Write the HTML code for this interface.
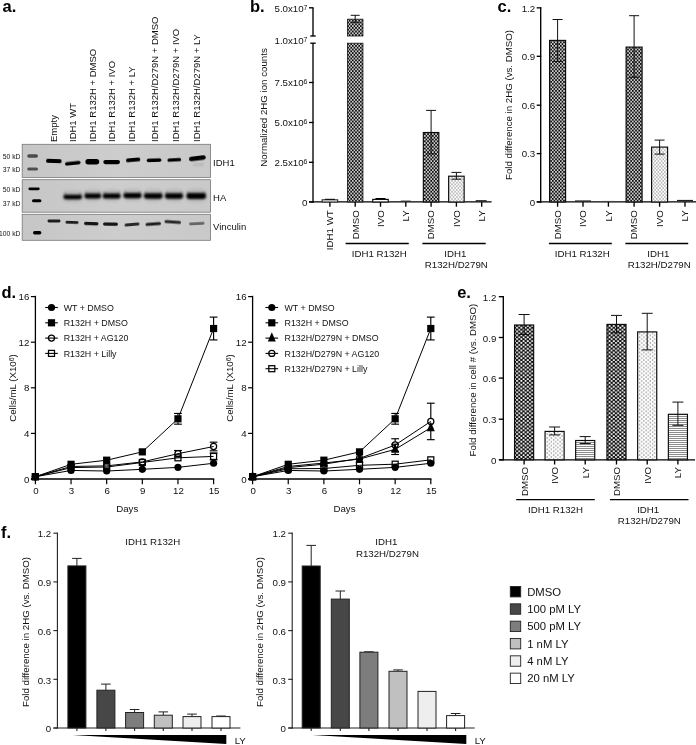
<!DOCTYPE html>
<html><head><meta charset="utf-8"><title>Figure</title>
<style>
html,body{margin:0;padding:0;background:#fff;}
body{width:696px;height:745px;overflow:hidden;font-family:"Liberation Sans",sans-serif;}
svg{display:block;}
svg text{font-family:"Liberation Sans",sans-serif;}
</style></head><body>
<svg width="696" height="745" viewBox="0 0 696 745">
<defs>
<pattern id="pDense" patternUnits="userSpaceOnUse" width="3.2" height="3.6">
<rect width="3.2" height="3.6" fill="#0d0d0d"/>
<circle cx="0.8" cy="0.9" r="0.88" fill="#fff"/><circle cx="2.4" cy="2.7" r="0.88" fill="#fff"/>
</pattern>
<pattern id="pDenseE" patternUnits="userSpaceOnUse" width="4.3" height="3.8">
<rect width="4.3" height="3.8" fill="#111"/>
<circle cx="1.075" cy="0.95" r="1.03" fill="#fff"/><circle cx="3.225" cy="2.85" r="1.03" fill="#fff"/>
</pattern>
<pattern id="pLight" patternUnits="userSpaceOnUse" width="3.2" height="3.6">
<rect width="3.2" height="3.6" fill="#fff"/>
<circle cx="0.8" cy="0.9" r="0.66" fill="#6a6a6a"/><circle cx="2.4" cy="2.7" r="0.66" fill="#6a6a6a"/>
</pattern>
<pattern id="pLightE" patternUnits="userSpaceOnUse" width="4.3" height="3.8">
<rect width="4.3" height="3.8" fill="#fff"/>
<circle cx="1.075" cy="0.95" r="0.72" fill="#777"/><circle cx="3.225" cy="2.85" r="0.72" fill="#777"/>
</pattern>
<pattern id="pLines" patternUnits="userSpaceOnUse" width="4" height="2">
<rect width="4" height="2" fill="#fff"/>
<rect y="0" width="4" height="1" fill="#8c8c8c"/>
</pattern>
<filter id="bl1" x="-30%" y="-100%" width="160%" height="300%"><feGaussianBlur stdDeviation="0.6"/></filter>
<filter id="bl2" x="-30%" y="-100%" width="160%" height="300%"><feGaussianBlur stdDeviation="0.85"/></filter>
<filter id="bl3" x="-30%" y="-100%" width="160%" height="300%"><feGaussianBlur stdDeviation="2.0"/></filter>
<linearGradient id="bg1" x1="0" y1="0" x2="1" y2="0">
<stop offset="0" stop-color="#c6c6c6"/><stop offset="0.5" stop-color="#cdcdcd"/><stop offset="1" stop-color="#c9c9c9"/>
</linearGradient>
</defs>
<rect width="696" height="745" fill="#fff"/>

<text x="2.60" y="11.90" font-size="16.5" text-anchor="start" font-weight="bold" fill="#000" >a.</text>
<text x="250.00" y="11.90" font-size="16.5" text-anchor="start" font-weight="bold" fill="#000" >b.</text>
<text x="497.60" y="12.40" font-size="16.5" text-anchor="start" font-weight="bold" fill="#000" >c.</text>
<text x="1.50" y="297.70" font-size="16.5" text-anchor="start" font-weight="bold" fill="#000" >d.</text>
<text x="457.20" y="297.70" font-size="16.5" text-anchor="start" font-weight="bold" fill="#000" >e.</text>
<text x="1.00" y="537.70" font-size="16.5" text-anchor="start" font-weight="bold" fill="#000" >f.</text>
<g id="panel-a">
<text x="56.60" y="142.00" font-size="9.5" text-anchor="start" font-weight="normal" fill="#111" transform="rotate(-90 56.60 142.00)" >Empty</text>
<text x="76.10" y="142.00" font-size="9.5" text-anchor="start" font-weight="normal" fill="#111" transform="rotate(-90 76.10 142.00)" >IDH1 WT</text>
<text x="96.20" y="142.00" font-size="9.5" text-anchor="start" font-weight="normal" fill="#111" transform="rotate(-90 96.20 142.00)" >IDH1 R132H + DMSO</text>
<text x="115.20" y="142.00" font-size="9.5" text-anchor="start" font-weight="normal" fill="#111" transform="rotate(-90 115.20 142.00)" >IDH1 R132H + IVO</text>
<text x="135.30" y="142.00" font-size="9.5" text-anchor="start" font-weight="normal" fill="#111" transform="rotate(-90 135.30 142.00)" >IDH1 R132H + LY</text>
<text x="157.70" y="142.00" font-size="9.5" text-anchor="start" font-weight="normal" fill="#111" transform="rotate(-90 157.70 142.00)" >IDH1 R132H/D279N + DMSO</text>
<text x="178.50" y="142.00" font-size="9.5" text-anchor="start" font-weight="normal" fill="#111" transform="rotate(-90 178.50 142.00)" >IDH1 R132H/D279N + IVO</text>
<text x="199.50" y="142.00" font-size="9.5" text-anchor="start" font-weight="normal" fill="#111" transform="rotate(-90 199.50 142.00)" >IDH1 R132H/D279N + LY</text>
<rect x="22.20" y="144.30" width="188.30" height="33.10" fill="url(#bg1)" stroke="#777" stroke-width="0.8" />
<rect x="22.20" y="179.70" width="188.30" height="32.50" fill="url(#bg1)" stroke="#777" stroke-width="0.8" />
<rect x="22.20" y="214.30" width="188.30" height="26.00" fill="url(#bg1)" stroke="#777" stroke-width="0.8" />
<clipPath id="c1"><rect x="22.6" y="144.7" width="187.5" height="32.4"/></clipPath>
<clipPath id="c2"><rect x="22.6" y="180.1" width="187.5" height="31.7"/></clipPath>
<clipPath id="c3"><rect x="22.6" y="214.7" width="187.5" height="25.2"/></clipPath>
<g clip-path="url(#c1)">
<rect x="27.2" y="154.30" width="10.8" height="3.40" rx="1.70" fill="#000" opacity="0.62" filter="url(#bl1)"/>
<rect x="27.2" y="167.40" width="10.8" height="3.20" rx="1.60" fill="#000" opacity="0.6" filter="url(#bl1)"/>
<rect x="46.0" y="159.10" width="15.7" height="3.80" rx="1.90" fill="#000" opacity="1" filter="url(#bl1)" transform="rotate(2 53.9 161.0)"/>
<rect x="65.0" y="161.60" width="15.5" height="3.40" rx="1.70" fill="#000" opacity="1" filter="url(#bl1)" transform="rotate(-6 72.8 163.3)"/>
<rect x="85.4" y="159.05" width="13.8" height="5.50" rx="2.75" fill="#000" opacity="1" filter="url(#bl1)"/>
<rect x="103.3" y="160.00" width="16.7" height="4.20" rx="2.10" fill="#000" opacity="1" filter="url(#bl1)"/>
<rect x="126.0" y="158.00" width="14.3" height="3.80" rx="1.90" fill="#000" opacity="1" filter="url(#bl1)" transform="rotate(-5 133.2 159.9)"/>
<rect x="146.7" y="158.50" width="14.7" height="3.60" rx="1.80" fill="#000" opacity="1" filter="url(#bl1)" transform="rotate(-2 154.1 160.3)"/>
<rect x="167.4" y="158.20" width="13.8" height="3.40" rx="1.70" fill="#000" opacity="1" filter="url(#bl1)" transform="rotate(-3 174.3 159.9)"/>
<rect x="189.0" y="155.95" width="16.7" height="4.50" rx="2.25" fill="#000" opacity="1" filter="url(#bl1)" transform="rotate(-7 197.3 158.2)"/>
<rect x="193.0" y="163.40" width="11.0" height="2.20" rx="1.10" fill="#000" opacity="0.12" filter="url(#bl2)"/>
</g>
<g clip-path="url(#c2)">
<rect x="28.4" y="187.40" width="11.3" height="2.80" rx="1.40" fill="#000" opacity="1" filter="url(#bl1)"/>
<rect x="32.0" y="199.20" width="9.4" height="3.00" rx="1.50" fill="#000" opacity="1" filter="url(#bl1)"/>
<rect x="63.5" y="191.95" width="18.5" height="9.10" rx="4.55" fill="#000" opacity="0.16" filter="url(#bl3)"/>
<rect x="64.0" y="192.00" width="2.5" height="5.00" rx="2.50" fill="#000" opacity="0.25" filter="url(#bl2)"/>
<rect x="79.0" y="192.00" width="2.5" height="5.00" rx="2.50" fill="#000" opacity="0.25" filter="url(#bl2)"/>
<rect x="63.5" y="194.70" width="18.5" height="4.60" rx="2.30" fill="#000" opacity="1" filter="url(#bl2)"/>
<rect x="84.5" y="190.75" width="16.5" height="9.50" rx="4.75" fill="#000" opacity="0.16" filter="url(#bl3)"/>
<rect x="85.0" y="191.00" width="2.5" height="5.00" rx="2.50" fill="#000" opacity="0.25" filter="url(#bl2)"/>
<rect x="98.0" y="191.00" width="2.5" height="5.00" rx="2.50" fill="#000" opacity="0.25" filter="url(#bl2)"/>
<rect x="84.5" y="193.50" width="16.5" height="5.00" rx="2.50" fill="#000" opacity="1" filter="url(#bl2)"/>
<rect x="102.8" y="190.65" width="17.7" height="9.70" rx="4.85" fill="#000" opacity="0.16" filter="url(#bl3)"/>
<rect x="103.3" y="191.00" width="2.5" height="5.00" rx="2.50" fill="#000" opacity="0.25" filter="url(#bl2)"/>
<rect x="117.5" y="191.00" width="2.5" height="5.00" rx="2.50" fill="#000" opacity="0.25" filter="url(#bl2)"/>
<rect x="102.8" y="193.40" width="17.7" height="5.20" rx="2.60" fill="#000" opacity="1" filter="url(#bl2)"/>
<rect x="123.5" y="190.25" width="18.0" height="9.70" rx="4.85" fill="#000" opacity="0.16" filter="url(#bl3)"/>
<rect x="124.0" y="190.60" width="2.5" height="5.00" rx="2.50" fill="#000" opacity="0.25" filter="url(#bl2)"/>
<rect x="138.5" y="190.60" width="2.5" height="5.00" rx="2.50" fill="#000" opacity="0.25" filter="url(#bl2)"/>
<rect x="123.5" y="193.00" width="18.0" height="5.20" rx="2.60" fill="#000" opacity="1" filter="url(#bl2)"/>
<rect x="144.0" y="190.45" width="18.5" height="10.10" rx="5.05" fill="#000" opacity="0.16" filter="url(#bl3)"/>
<rect x="144.5" y="191.00" width="2.5" height="5.00" rx="2.50" fill="#000" opacity="0.25" filter="url(#bl2)"/>
<rect x="159.5" y="191.00" width="2.5" height="5.00" rx="2.50" fill="#000" opacity="0.25" filter="url(#bl2)"/>
<rect x="144.0" y="193.20" width="18.5" height="5.60" rx="2.80" fill="#000" opacity="1" filter="url(#bl2)"/>
<rect x="165.0" y="190.55" width="18.0" height="9.90" rx="4.95" fill="#000" opacity="0.16" filter="url(#bl3)"/>
<rect x="165.5" y="191.00" width="2.5" height="5.00" rx="2.50" fill="#000" opacity="0.25" filter="url(#bl2)"/>
<rect x="180.0" y="191.00" width="2.5" height="5.00" rx="2.50" fill="#000" opacity="0.25" filter="url(#bl2)"/>
<rect x="165.0" y="193.30" width="18.0" height="5.40" rx="2.70" fill="#000" opacity="1" filter="url(#bl2)"/>
<rect x="186.5" y="190.35" width="19.5" height="10.30" rx="5.15" fill="#000" opacity="0.16" filter="url(#bl3)"/>
<rect x="187.0" y="191.00" width="2.5" height="5.00" rx="2.50" fill="#000" opacity="0.25" filter="url(#bl2)"/>
<rect x="203.0" y="191.00" width="2.5" height="5.00" rx="2.50" fill="#000" opacity="0.25" filter="url(#bl2)"/>
<rect x="186.5" y="193.10" width="19.5" height="5.80" rx="2.90" fill="#000" opacity="1" filter="url(#bl2)"/>
</g>
<g clip-path="url(#c3)">
<rect x="33.0" y="231.10" width="8.4" height="3.40" rx="1.70" fill="#000" opacity="1" filter="url(#bl1)"/>
<rect x="47.5" y="219.60" width="13.0" height="2.80" rx="1.40" fill="#000" opacity="0.85" filter="url(#bl1)"/>
<rect x="65.5" y="221.00" width="13.0" height="2.80" rx="1.40" fill="#000" opacity="0.85" filter="url(#bl1)" transform="rotate(2 72.0 222.4)"/>
<rect x="84.0" y="222.00" width="14.5" height="3.20" rx="1.60" fill="#000" opacity="0.9" filter="url(#bl1)" transform="rotate(2 91.2 223.6)"/>
<rect x="103.0" y="222.40" width="15.0" height="3.40" rx="1.70" fill="#000" opacity="0.9" filter="url(#bl1)" transform="rotate(1 110.5 224.1)"/>
<rect x="124.5" y="222.90" width="15.0" height="3.20" rx="1.60" fill="#000" opacity="0.8" filter="url(#bl1)" transform="rotate(-5 132.0 224.5)"/>
<rect x="145.5" y="222.40" width="15.5" height="3.20" rx="1.60" fill="#000" opacity="0.85" filter="url(#bl1)" transform="rotate(-4 153.2 224.0)"/>
<rect x="164.5" y="220.50" width="16.5" height="3.00" rx="1.50" fill="#000" opacity="0.8" filter="url(#bl1)" transform="rotate(4 172.8 222.0)"/>
<rect x="189.0" y="222.20" width="15.5" height="2.80" rx="1.40" fill="#000" opacity="0.5" filter="url(#bl1)" transform="rotate(-3 196.8 223.6)"/>
</g>
<text x="20.50" y="158.80" font-size="6.8" text-anchor="end" font-weight="normal" fill="#111" >50 kD</text>
<text x="20.50" y="172.00" font-size="6.8" text-anchor="end" font-weight="normal" fill="#111" >37 kD</text>
<text x="20.50" y="191.50" font-size="6.8" text-anchor="end" font-weight="normal" fill="#111" >50 kD</text>
<text x="20.50" y="206.00" font-size="6.8" text-anchor="end" font-weight="normal" fill="#111" >37 kD</text>
<text x="20.50" y="235.50" font-size="6.8" text-anchor="end" font-weight="normal" fill="#111" >100 kD</text>
<text x="213.10" y="165.80" font-size="9.5" text-anchor="start" font-weight="normal" fill="#111" >IDH1</text>
<text x="213.10" y="200.80" font-size="9.5" text-anchor="start" font-weight="normal" fill="#111" >HA</text>
<text x="213.10" y="229.60" font-size="9.5" text-anchor="start" font-weight="normal" fill="#111" >Vinculin</text>
</g>
<g id="panel-b">
<line x1="313.00" y1="43.20" x2="313.00" y2="202.50" stroke="#000" stroke-width="1.35" />
<line x1="313.00" y1="7.80" x2="313.00" y2="36.00" stroke="#000" stroke-width="1.35" />
<line x1="310.30" y1="36.00" x2="315.70" y2="36.00" stroke="#000" stroke-width="1.35" />
<line x1="310.30" y1="43.20" x2="315.70" y2="43.20" stroke="#000" stroke-width="1.35" />
<line x1="309.00" y1="7.80" x2="313.50" y2="7.80" stroke="#000" stroke-width="1.35" />
<line x1="309.00" y1="82.50" x2="313.50" y2="82.50" stroke="#000" stroke-width="1.35" />
<line x1="309.00" y1="122.50" x2="313.50" y2="122.50" stroke="#000" stroke-width="1.35" />
<line x1="309.00" y1="162.30" x2="313.50" y2="162.30" stroke="#000" stroke-width="1.35" />
<line x1="309.00" y1="202.00" x2="313.50" y2="202.00" stroke="#000" stroke-width="1.35" />
<line x1="309.00" y1="201.80" x2="491.60" y2="201.80" stroke="#000" stroke-width="1.3" />
<text x="307.50" y="11.50" font-size="9.7" text-anchor="end" font-weight="normal" fill="#111" >5.0x10<tspan font-size="6.98" dy="-1.84">7</tspan></text>
<text x="307.50" y="43.70" font-size="9.7" text-anchor="end" font-weight="normal" fill="#111" >1.0x10<tspan font-size="6.98" dy="-1.84">7</tspan></text>
<text x="307.50" y="86.30" font-size="9.7" text-anchor="end" font-weight="normal" fill="#111" >7.5x10<tspan font-size="6.98" dy="-1.84">6</tspan></text>
<text x="307.50" y="126.30" font-size="9.7" text-anchor="end" font-weight="normal" fill="#111" >5.0x10<tspan font-size="6.98" dy="-1.84">6</tspan></text>
<text x="307.50" y="166.10" font-size="9.7" text-anchor="end" font-weight="normal" fill="#111" >2.5x10<tspan font-size="6.98" dy="-1.84">6</tspan></text>
<text x="307.50" y="205.70" font-size="9.7" text-anchor="end" font-weight="normal" fill="#111" >0</text>
<text x="267.00" y="107.50" font-size="9.7" text-anchor="middle" font-weight="normal" fill="#111" transform="rotate(-90 267.00 107.50)" >Normalized 2HG ion counts</text>
<line x1="329.90" y1="202.00" x2="329.90" y2="206.70" stroke="#000" stroke-width="1.35" />
<line x1="355.20" y1="202.00" x2="355.20" y2="206.70" stroke="#000" stroke-width="1.35" />
<line x1="380.50" y1="202.00" x2="380.50" y2="206.70" stroke="#000" stroke-width="1.35" />
<line x1="405.80" y1="202.00" x2="405.80" y2="206.70" stroke="#000" stroke-width="1.35" />
<line x1="431.10" y1="202.00" x2="431.10" y2="206.70" stroke="#000" stroke-width="1.35" />
<line x1="456.40" y1="202.00" x2="456.40" y2="206.70" stroke="#000" stroke-width="1.35" />
<line x1="481.70" y1="202.00" x2="481.70" y2="206.70" stroke="#000" stroke-width="1.35" />
<rect x="322.15" y="199.80" width="15.50" height="2.20" fill="#fff" stroke="#333" stroke-width="1.15" />
<line x1="324.90" y1="199.30" x2="334.90" y2="199.30" stroke="#000" stroke-width="1" />
<rect x="347.45" y="43.20" width="15.50" height="158.80" fill="url(#pDense)" stroke="#111" stroke-width="0.8" />
<rect x="347.45" y="19.20" width="15.50" height="16.80" fill="url(#pDense)" stroke="#111" stroke-width="0.8" />
<line x1="355.20" y1="15.30" x2="355.20" y2="22.30" stroke="#111" stroke-width="1" />
<line x1="350.70" y1="15.30" x2="359.70" y2="15.30" stroke="#111" stroke-width="1" />
<line x1="350.70" y1="22.30" x2="359.70" y2="22.30" stroke="#111" stroke-width="1" />
<rect x="372.75" y="199.40" width="15.50" height="2.60" fill="#fff" stroke="#0a0a0a" stroke-width="1.15" />
<line x1="375.50" y1="198.60" x2="385.50" y2="198.60" stroke="#000" stroke-width="1.2" />
<line x1="400.80" y1="201.00" x2="410.80" y2="201.00" stroke="#222" stroke-width="0.8" />
<rect x="423.35" y="132.50" width="15.50" height="69.50" fill="url(#pDense)" stroke="#0a0a0a" stroke-width="1.15" />
<line x1="431.10" y1="110.40" x2="431.10" y2="153.90" stroke="#111" stroke-width="1" />
<line x1="426.10" y1="110.40" x2="436.10" y2="110.40" stroke="#111" stroke-width="1" />
<line x1="426.10" y1="153.90" x2="436.10" y2="153.90" stroke="#111" stroke-width="1" />
<rect x="448.65" y="176.20" width="15.50" height="25.80" fill="url(#pLight)" stroke="#0a0a0a" stroke-width="1.15" />
<line x1="456.40" y1="172.40" x2="456.40" y2="179.20" stroke="#111" stroke-width="1" />
<line x1="451.40" y1="172.40" x2="461.40" y2="172.40" stroke="#111" stroke-width="1" />
<line x1="451.40" y1="179.20" x2="461.40" y2="179.20" stroke="#111" stroke-width="1" />
<line x1="475.70" y1="200.80" x2="486.70" y2="200.80" stroke="#111" stroke-width="1.2" />
<text x="333.30" y="210.30" font-size="9.7" text-anchor="end" font-weight="normal" fill="#111" transform="rotate(-90 333.30 210.30)" >IDH1 WT</text>
<text x="358.60" y="210.30" font-size="9.7" text-anchor="end" font-weight="normal" fill="#111" transform="rotate(-90 358.60 210.30)" >DMSO</text>
<text x="383.90" y="210.30" font-size="9.7" text-anchor="end" font-weight="normal" fill="#111" transform="rotate(-90 383.90 210.30)" >IVO</text>
<text x="409.20" y="210.30" font-size="9.7" text-anchor="end" font-weight="normal" fill="#111" transform="rotate(-90 409.20 210.30)" >LY</text>
<text x="434.50" y="210.30" font-size="9.7" text-anchor="end" font-weight="normal" fill="#111" transform="rotate(-90 434.50 210.30)" >DMSO</text>
<text x="459.80" y="210.30" font-size="9.7" text-anchor="end" font-weight="normal" fill="#111" transform="rotate(-90 459.80 210.30)" >IVO</text>
<text x="485.10" y="210.30" font-size="9.7" text-anchor="end" font-weight="normal" fill="#111" transform="rotate(-90 485.10 210.30)" >LY</text>
<line x1="345.60" y1="243.50" x2="408.80" y2="243.50" stroke="#000" stroke-width="1.3" />
<line x1="422.40" y1="243.50" x2="485.70" y2="243.50" stroke="#000" stroke-width="1.3" />
<text x="379.30" y="257.00" font-size="9.7" text-anchor="middle" font-weight="normal" fill="#111" >IDH1 R132H</text>
<text x="455.40" y="257.00" font-size="9.7" text-anchor="middle" font-weight="normal" fill="#111" >IDH1</text>
<text x="456.30" y="267.70" font-size="9.7" text-anchor="middle" font-weight="normal" fill="#111" >R132H/D279N</text>
</g>
<g id="panel-c">
<line x1="540.70" y1="7.30" x2="540.70" y2="202.50" stroke="#000" stroke-width="1.35" />
<line x1="536.70" y1="201.80" x2="696.00" y2="201.80" stroke="#000" stroke-width="1.3" />
<line x1="536.70" y1="7.85" x2="541.20" y2="7.85" stroke="#000" stroke-width="1.35" />
<text x="535.20" y="11.55" font-size="9.7" text-anchor="end" font-weight="normal" fill="#111" >1.2</text>
<line x1="536.70" y1="56.30" x2="541.20" y2="56.30" stroke="#000" stroke-width="1.35" />
<text x="535.20" y="60.00" font-size="9.7" text-anchor="end" font-weight="normal" fill="#111" >0.9</text>
<line x1="536.70" y1="105.20" x2="541.20" y2="105.20" stroke="#000" stroke-width="1.35" />
<text x="535.20" y="108.90" font-size="9.7" text-anchor="end" font-weight="normal" fill="#111" >0.6</text>
<line x1="536.70" y1="153.60" x2="541.20" y2="153.60" stroke="#000" stroke-width="1.35" />
<text x="535.20" y="157.30" font-size="9.7" text-anchor="end" font-weight="normal" fill="#111" >0.3</text>
<line x1="536.70" y1="202.00" x2="541.20" y2="202.00" stroke="#000" stroke-width="1.35" />
<text x="535.20" y="205.70" font-size="9.7" text-anchor="end" font-weight="normal" fill="#111" >0</text>
<text x="512.10" y="105.00" font-size="9.7" text-anchor="middle" font-weight="normal" fill="#111" transform="rotate(-90 512.10 105.00)" >Fold difference in 2HG (vs. DMSO)</text>
<line x1="557.60" y1="202.00" x2="557.60" y2="206.70" stroke="#000" stroke-width="1.35" />
<line x1="583.00" y1="202.00" x2="583.00" y2="206.70" stroke="#000" stroke-width="1.35" />
<line x1="608.40" y1="202.00" x2="608.40" y2="206.70" stroke="#000" stroke-width="1.35" />
<line x1="634.10" y1="202.00" x2="634.10" y2="206.70" stroke="#000" stroke-width="1.35" />
<line x1="659.60" y1="202.00" x2="659.60" y2="206.70" stroke="#000" stroke-width="1.35" />
<line x1="685.00" y1="202.00" x2="685.00" y2="206.70" stroke="#000" stroke-width="1.35" />
<rect x="549.60" y="40.40" width="16.00" height="161.60" fill="url(#pDense)" stroke="#0a0a0a" stroke-width="1.15" />
<line x1="557.60" y1="19.50" x2="557.60" y2="61.40" stroke="#111" stroke-width="1" />
<line x1="552.60" y1="19.50" x2="562.60" y2="19.50" stroke="#111" stroke-width="1" />
<line x1="552.60" y1="61.40" x2="562.60" y2="61.40" stroke="#111" stroke-width="1" />
<line x1="575.00" y1="201.00" x2="591.00" y2="201.00" stroke="#222" stroke-width="1.2" />
<line x1="602.40" y1="201.40" x2="614.40" y2="201.40" stroke="#444" stroke-width="0.6" />
<rect x="626.10" y="47.10" width="16.00" height="154.90" fill="url(#pDense)" stroke="#0a0a0a" stroke-width="1.15" />
<line x1="634.10" y1="15.70" x2="634.10" y2="77.30" stroke="#111" stroke-width="1" />
<line x1="629.10" y1="15.70" x2="639.10" y2="15.70" stroke="#111" stroke-width="1" />
<line x1="629.10" y1="77.30" x2="639.10" y2="77.30" stroke="#111" stroke-width="1" />
<rect x="651.60" y="147.10" width="16.00" height="54.90" fill="url(#pLight)" stroke="#0a0a0a" stroke-width="1.15" />
<line x1="659.60" y1="140.10" x2="659.60" y2="154.10" stroke="#111" stroke-width="1" />
<line x1="654.60" y1="140.10" x2="664.60" y2="140.10" stroke="#111" stroke-width="1" />
<line x1="654.60" y1="154.10" x2="664.60" y2="154.10" stroke="#111" stroke-width="1" />
<line x1="677.00" y1="200.60" x2="693.00" y2="200.60" stroke="#222" stroke-width="1.4" />
<text x="561.00" y="210.30" font-size="9.7" text-anchor="end" font-weight="normal" fill="#111" transform="rotate(-90 561.00 210.30)" >DMSO</text>
<text x="586.40" y="210.30" font-size="9.7" text-anchor="end" font-weight="normal" fill="#111" transform="rotate(-90 586.40 210.30)" >IVO</text>
<text x="611.80" y="210.30" font-size="9.7" text-anchor="end" font-weight="normal" fill="#111" transform="rotate(-90 611.80 210.30)" >LY</text>
<text x="637.50" y="210.30" font-size="9.7" text-anchor="end" font-weight="normal" fill="#111" transform="rotate(-90 637.50 210.30)" >DMSO</text>
<text x="663.00" y="210.30" font-size="9.7" text-anchor="end" font-weight="normal" fill="#111" transform="rotate(-90 663.00 210.30)" >IVO</text>
<text x="688.40" y="210.30" font-size="9.7" text-anchor="end" font-weight="normal" fill="#111" transform="rotate(-90 688.40 210.30)" >LY</text>
<line x1="548.90" y1="243.50" x2="611.80" y2="243.50" stroke="#000" stroke-width="1.3" />
<line x1="625.40" y1="243.50" x2="688.20" y2="243.50" stroke="#000" stroke-width="1.3" />
<text x="582.20" y="257.00" font-size="9.7" text-anchor="middle" font-weight="normal" fill="#111" >IDH1 R132H</text>
<text x="658.40" y="257.00" font-size="9.7" text-anchor="middle" font-weight="normal" fill="#111" >IDH1</text>
<text x="659.20" y="267.70" font-size="9.7" text-anchor="middle" font-weight="normal" fill="#111" >R132H/D279N</text>
</g>
<g id="panel-d">
<line x1="35.40" y1="295.80" x2="35.40" y2="479.60" stroke="#000" stroke-width="1.3" />
<line x1="30.90" y1="479.00" x2="214.20" y2="479.00" stroke="#000" stroke-width="1.3" />
<line x1="30.90" y1="479.00" x2="35.40" y2="479.00" stroke="#000" stroke-width="1.2" />
<text x="29.40" y="482.50" font-size="9.7" text-anchor="end" font-weight="normal" fill="#111" >0</text>
<line x1="30.90" y1="433.40" x2="35.40" y2="433.40" stroke="#000" stroke-width="1.2" />
<text x="29.40" y="436.90" font-size="9.7" text-anchor="end" font-weight="normal" fill="#111" >4</text>
<line x1="30.90" y1="387.80" x2="35.40" y2="387.80" stroke="#000" stroke-width="1.2" />
<text x="29.40" y="391.30" font-size="9.7" text-anchor="end" font-weight="normal" fill="#111" >8</text>
<line x1="30.90" y1="342.20" x2="35.40" y2="342.20" stroke="#000" stroke-width="1.2" />
<text x="29.40" y="345.70" font-size="9.7" text-anchor="end" font-weight="normal" fill="#111" >12</text>
<line x1="30.90" y1="296.60" x2="35.40" y2="296.60" stroke="#000" stroke-width="1.2" />
<text x="29.40" y="300.10" font-size="9.7" text-anchor="end" font-weight="normal" fill="#111" >16</text>
<line x1="35.40" y1="479.00" x2="35.40" y2="484.30" stroke="#000" stroke-width="1.2" />
<text x="35.90" y="494.20" font-size="9.7" text-anchor="middle" font-weight="normal" fill="#111" >0</text>
<line x1="71.04" y1="479.00" x2="71.04" y2="484.30" stroke="#000" stroke-width="1.2" />
<text x="71.54" y="494.20" font-size="9.7" text-anchor="middle" font-weight="normal" fill="#111" >3</text>
<line x1="106.68" y1="479.00" x2="106.68" y2="484.30" stroke="#000" stroke-width="1.2" />
<text x="107.18" y="494.20" font-size="9.7" text-anchor="middle" font-weight="normal" fill="#111" >6</text>
<line x1="142.32" y1="479.00" x2="142.32" y2="484.30" stroke="#000" stroke-width="1.2" />
<text x="142.82" y="494.20" font-size="9.7" text-anchor="middle" font-weight="normal" fill="#111" >9</text>
<line x1="177.96" y1="479.00" x2="177.96" y2="484.30" stroke="#000" stroke-width="1.2" />
<text x="178.46" y="494.20" font-size="9.7" text-anchor="middle" font-weight="normal" fill="#111" >12</text>
<line x1="213.60" y1="479.00" x2="213.60" y2="484.30" stroke="#000" stroke-width="1.2" />
<text x="214.10" y="494.20" font-size="9.7" text-anchor="middle" font-weight="normal" fill="#111" >15</text>
<text x="16.00" y="388.00" font-size="9.7" text-anchor="middle" font-weight="normal" fill="#111" transform="rotate(-90 16.00 388.00)" >Cells/mL (X10<tspan font-size="6.98" dy="-1.84">6</tspan><tspan dy="1.84">)</tspan></text>
<text x="127.20" y="512.30" font-size="9.7" text-anchor="middle" font-weight="normal" fill="#111" >Days</text>
<polyline points="35.40,476.72 71.04,470.45 106.68,471.02 142.32,469.31 177.96,467.37 213.60,463.27" fill="none" stroke="#000" stroke-width="1"/>
<circle cx="35.40" cy="476.72" r="3.60" fill="#000"/>
<circle cx="71.04" cy="470.45" r="3.60" fill="#000"/>
<circle cx="106.68" cy="471.02" r="3.60" fill="#000"/>
<circle cx="142.32" cy="469.31" r="3.60" fill="#000"/>
<circle cx="177.96" cy="467.37" r="3.60" fill="#000"/>
<circle cx="213.60" cy="463.27" r="3.60" fill="#000"/>
<polyline points="35.40,476.72 71.04,464.29 106.68,460.19 142.32,451.87 177.96,418.81 213.60,328.52" fill="none" stroke="#000" stroke-width="1"/>
<line x1="177.96" y1="413.45" x2="177.96" y2="415.41" stroke="#000" stroke-width="1.15" />
<line x1="177.96" y1="422.21" x2="177.96" y2="424.17" stroke="#000" stroke-width="1.15" />
<line x1="174.06" y1="413.45" x2="181.86" y2="413.45" stroke="#000" stroke-width="1.15" />
<line x1="174.06" y1="424.17" x2="181.86" y2="424.17" stroke="#000" stroke-width="1.15" />
<line x1="213.60" y1="317.12" x2="213.60" y2="325.12" stroke="#000" stroke-width="1.15" />
<line x1="213.60" y1="331.92" x2="213.60" y2="339.92" stroke="#000" stroke-width="1.15" />
<line x1="209.70" y1="317.12" x2="217.50" y2="317.12" stroke="#000" stroke-width="1.15" />
<line x1="209.70" y1="339.92" x2="217.50" y2="339.92" stroke="#000" stroke-width="1.15" />
<rect x="31.80" y="473.12" width="7.20" height="7.20" fill="#000" stroke="none" stroke-width="1" />
<rect x="67.44" y="460.69" width="7.20" height="7.20" fill="#000" stroke="none" stroke-width="1" />
<rect x="103.08" y="456.59" width="7.20" height="7.20" fill="#000" stroke="none" stroke-width="1" />
<rect x="138.72" y="448.27" width="7.20" height="7.20" fill="#000" stroke="none" stroke-width="1" />
<rect x="174.36" y="415.21" width="7.20" height="7.20" fill="#000" stroke="none" stroke-width="1" />
<rect x="210.00" y="324.92" width="7.20" height="7.20" fill="#000" stroke="none" stroke-width="1" />
<polyline points="35.40,476.72 71.04,466.46 106.68,465.89 142.32,461.90 177.96,453.69 213.60,446.51" fill="none" stroke="#000" stroke-width="1"/>
<line x1="177.96" y1="450.50" x2="177.96" y2="450.29" stroke="#000" stroke-width="1.15" />
<line x1="177.96" y1="457.09" x2="177.96" y2="456.88" stroke="#000" stroke-width="1.15" />
<line x1="174.06" y1="450.50" x2="181.86" y2="450.50" stroke="#000" stroke-width="1.15" />
<line x1="174.06" y1="456.88" x2="181.86" y2="456.88" stroke="#000" stroke-width="1.15" />
<line x1="213.60" y1="442.18" x2="213.60" y2="443.11" stroke="#000" stroke-width="1.15" />
<line x1="213.60" y1="449.91" x2="213.60" y2="450.84" stroke="#000" stroke-width="1.15" />
<line x1="209.70" y1="442.18" x2="217.50" y2="442.18" stroke="#000" stroke-width="1.15" />
<line x1="209.70" y1="450.84" x2="217.50" y2="450.84" stroke="#000" stroke-width="1.15" />
<circle cx="35.40" cy="476.72" r="3.05" fill="none" stroke="#000" stroke-width="1.25"/>
<circle cx="71.04" cy="466.46" r="3.05" fill="none" stroke="#000" stroke-width="1.25"/>
<circle cx="106.68" cy="465.89" r="3.05" fill="none" stroke="#000" stroke-width="1.25"/>
<circle cx="142.32" cy="461.90" r="3.05" fill="none" stroke="#000" stroke-width="1.25"/>
<circle cx="177.96" cy="453.69" r="3.05" fill="none" stroke="#000" stroke-width="1.25"/>
<circle cx="213.60" cy="446.51" r="3.05" fill="none" stroke="#000" stroke-width="1.25"/>
<polyline points="35.40,476.72 71.04,467.60 106.68,467.03 142.32,462.47 177.96,457.80 213.60,456.43" fill="none" stroke="#000" stroke-width="1"/>
<line x1="213.60" y1="453.01" x2="213.60" y2="453.03" stroke="#000" stroke-width="1.15" />
<line x1="213.60" y1="459.83" x2="213.60" y2="459.85" stroke="#000" stroke-width="1.15" />
<line x1="209.70" y1="453.01" x2="217.50" y2="453.01" stroke="#000" stroke-width="1.15" />
<line x1="209.70" y1="459.85" x2="217.50" y2="459.85" stroke="#000" stroke-width="1.15" />
<rect x="32.40" y="473.72" width="6.00" height="6.00" fill="none" stroke="#000" stroke-width="1.25" />
<rect x="68.04" y="464.60" width="6.00" height="6.00" fill="none" stroke="#000" stroke-width="1.25" />
<rect x="103.68" y="464.03" width="6.00" height="6.00" fill="none" stroke="#000" stroke-width="1.25" />
<rect x="139.32" y="459.47" width="6.00" height="6.00" fill="none" stroke="#000" stroke-width="1.25" />
<rect x="174.96" y="454.80" width="6.00" height="6.00" fill="none" stroke="#000" stroke-width="1.25" />
<rect x="210.60" y="453.43" width="6.00" height="6.00" fill="none" stroke="#000" stroke-width="1.25" />
<line x1="45.20" y1="307.50" x2="57.80" y2="307.50" stroke="#000" stroke-width="1.1" />
<circle cx="51.50" cy="307.50" r="3.60" fill="#000"/>
<text x="63.70" y="310.70" font-size="8.85" text-anchor="start" font-weight="normal" fill="#111" >WT + DMSO</text>
<line x1="45.20" y1="322.80" x2="57.80" y2="322.80" stroke="#000" stroke-width="1.1" />
<rect x="47.90" y="319.20" width="7.20" height="7.20" fill="#000" stroke="none" stroke-width="1" />
<text x="63.70" y="326.00" font-size="8.85" text-anchor="start" font-weight="normal" fill="#111" >R132H + DMSO</text>
<line x1="45.20" y1="338.10" x2="57.80" y2="338.10" stroke="#000" stroke-width="1.1" />
<circle cx="51.50" cy="338.10" r="3.05" fill="none" stroke="#000" stroke-width="1.25"/>
<text x="63.70" y="341.30" font-size="8.85" text-anchor="start" font-weight="normal" fill="#111" >R132H + AG120</text>
<line x1="45.20" y1="353.40" x2="57.80" y2="353.40" stroke="#000" stroke-width="1.1" />
<rect x="48.50" y="350.40" width="6.00" height="6.00" fill="none" stroke="#000" stroke-width="1.25" />
<text x="63.70" y="356.60" font-size="8.85" text-anchor="start" font-weight="normal" fill="#111" >R132H + Lilly</text>
<line x1="252.60" y1="295.80" x2="252.60" y2="479.60" stroke="#000" stroke-width="1.3" />
<line x1="248.10" y1="479.00" x2="431.40" y2="479.00" stroke="#000" stroke-width="1.3" />
<line x1="248.10" y1="479.00" x2="252.60" y2="479.00" stroke="#000" stroke-width="1.2" />
<text x="246.60" y="482.50" font-size="9.7" text-anchor="end" font-weight="normal" fill="#111" >0</text>
<line x1="248.10" y1="433.40" x2="252.60" y2="433.40" stroke="#000" stroke-width="1.2" />
<text x="246.60" y="436.90" font-size="9.7" text-anchor="end" font-weight="normal" fill="#111" >4</text>
<line x1="248.10" y1="387.80" x2="252.60" y2="387.80" stroke="#000" stroke-width="1.2" />
<text x="246.60" y="391.30" font-size="9.7" text-anchor="end" font-weight="normal" fill="#111" >8</text>
<line x1="248.10" y1="342.20" x2="252.60" y2="342.20" stroke="#000" stroke-width="1.2" />
<text x="246.60" y="345.70" font-size="9.7" text-anchor="end" font-weight="normal" fill="#111" >12</text>
<line x1="248.10" y1="296.60" x2="252.60" y2="296.60" stroke="#000" stroke-width="1.2" />
<text x="246.60" y="300.10" font-size="9.7" text-anchor="end" font-weight="normal" fill="#111" >16</text>
<line x1="252.60" y1="479.00" x2="252.60" y2="484.30" stroke="#000" stroke-width="1.2" />
<text x="253.10" y="494.20" font-size="9.7" text-anchor="middle" font-weight="normal" fill="#111" >0</text>
<line x1="288.24" y1="479.00" x2="288.24" y2="484.30" stroke="#000" stroke-width="1.2" />
<text x="288.74" y="494.20" font-size="9.7" text-anchor="middle" font-weight="normal" fill="#111" >3</text>
<line x1="323.88" y1="479.00" x2="323.88" y2="484.30" stroke="#000" stroke-width="1.2" />
<text x="324.38" y="494.20" font-size="9.7" text-anchor="middle" font-weight="normal" fill="#111" >6</text>
<line x1="359.52" y1="479.00" x2="359.52" y2="484.30" stroke="#000" stroke-width="1.2" />
<text x="360.02" y="494.20" font-size="9.7" text-anchor="middle" font-weight="normal" fill="#111" >9</text>
<line x1="395.16" y1="479.00" x2="395.16" y2="484.30" stroke="#000" stroke-width="1.2" />
<text x="395.66" y="494.20" font-size="9.7" text-anchor="middle" font-weight="normal" fill="#111" >12</text>
<line x1="430.80" y1="479.00" x2="430.80" y2="484.30" stroke="#000" stroke-width="1.2" />
<text x="431.30" y="494.20" font-size="9.7" text-anchor="middle" font-weight="normal" fill="#111" >15</text>
<text x="232.60" y="388.00" font-size="9.7" text-anchor="middle" font-weight="normal" fill="#111" transform="rotate(-90 232.60 388.00)" >Cells/mL (X10<tspan font-size="6.98" dy="-1.84">6</tspan><tspan dy="1.84">)</tspan></text>
<text x="344.50" y="512.30" font-size="9.7" text-anchor="middle" font-weight="normal" fill="#111" >Days</text>
<polyline points="252.60,476.72 288.24,470.45 323.88,471.02 359.52,469.31 395.16,467.37 430.80,463.27" fill="none" stroke="#000" stroke-width="1"/>
<circle cx="252.60" cy="476.72" r="3.60" fill="#000"/>
<circle cx="288.24" cy="470.45" r="3.60" fill="#000"/>
<circle cx="323.88" cy="471.02" r="3.60" fill="#000"/>
<circle cx="359.52" cy="469.31" r="3.60" fill="#000"/>
<circle cx="395.16" cy="467.37" r="3.60" fill="#000"/>
<circle cx="430.80" cy="463.27" r="3.60" fill="#000"/>
<polyline points="252.60,476.72 288.24,464.29 323.88,460.19 359.52,451.87 395.16,418.81 430.80,328.52" fill="none" stroke="#000" stroke-width="1"/>
<line x1="395.16" y1="413.45" x2="395.16" y2="415.41" stroke="#000" stroke-width="1.15" />
<line x1="395.16" y1="422.21" x2="395.16" y2="424.17" stroke="#000" stroke-width="1.15" />
<line x1="391.26" y1="413.45" x2="399.06" y2="413.45" stroke="#000" stroke-width="1.15" />
<line x1="391.26" y1="424.17" x2="399.06" y2="424.17" stroke="#000" stroke-width="1.15" />
<line x1="430.80" y1="317.12" x2="430.80" y2="325.12" stroke="#000" stroke-width="1.15" />
<line x1="430.80" y1="331.92" x2="430.80" y2="339.92" stroke="#000" stroke-width="1.15" />
<line x1="426.90" y1="317.12" x2="434.70" y2="317.12" stroke="#000" stroke-width="1.15" />
<line x1="426.90" y1="339.92" x2="434.70" y2="339.92" stroke="#000" stroke-width="1.15" />
<rect x="249.00" y="473.12" width="7.20" height="7.20" fill="#000" stroke="none" stroke-width="1" />
<rect x="284.64" y="460.69" width="7.20" height="7.20" fill="#000" stroke="none" stroke-width="1" />
<rect x="320.28" y="456.59" width="7.20" height="7.20" fill="#000" stroke="none" stroke-width="1" />
<rect x="355.92" y="448.27" width="7.20" height="7.20" fill="#000" stroke="none" stroke-width="1" />
<rect x="391.56" y="415.21" width="7.20" height="7.20" fill="#000" stroke="none" stroke-width="1" />
<rect x="427.20" y="324.92" width="7.20" height="7.20" fill="#000" stroke="none" stroke-width="1" />
<polyline points="252.60,476.72 288.24,466.46 323.88,463.04 359.52,459.05 395.16,449.36 430.80,427.70" fill="none" stroke="#000" stroke-width="1"/>
<line x1="395.16" y1="444.23" x2="395.16" y2="445.96" stroke="#000" stroke-width="1.15" />
<line x1="395.16" y1="452.76" x2="395.16" y2="454.49" stroke="#000" stroke-width="1.15" />
<line x1="391.26" y1="444.23" x2="399.06" y2="444.23" stroke="#000" stroke-width="1.15" />
<line x1="391.26" y1="454.49" x2="399.06" y2="454.49" stroke="#000" stroke-width="1.15" />
<polygon points="252.60,470.82 248.60,480.22 256.60,480.22" fill="#000"/>
<polygon points="288.24,460.56 284.24,469.96 292.24,469.96" fill="#000"/>
<polygon points="323.88,457.14 319.88,466.54 327.88,466.54" fill="#000"/>
<polygon points="359.52,453.15 355.52,462.55 363.52,462.55" fill="#000"/>
<polygon points="395.16,443.46 391.16,452.86 399.16,452.86" fill="#000"/>
<polygon points="430.80,421.80 426.80,431.20 434.80,431.20" fill="#000"/>
<polyline points="252.60,476.72 288.24,467.60 323.88,464.18 359.52,458.48 395.16,445.03 430.80,421.43" fill="none" stroke="#000" stroke-width="1"/>
<line x1="395.16" y1="438.76" x2="395.16" y2="441.63" stroke="#000" stroke-width="1.15" />
<line x1="395.16" y1="448.43" x2="395.16" y2="451.30" stroke="#000" stroke-width="1.15" />
<line x1="391.26" y1="438.76" x2="399.06" y2="438.76" stroke="#000" stroke-width="1.15" />
<line x1="391.26" y1="451.30" x2="399.06" y2="451.30" stroke="#000" stroke-width="1.15" />
<line x1="430.80" y1="403.19" x2="430.80" y2="418.03" stroke="#000" stroke-width="1.15" />
<line x1="430.80" y1="424.83" x2="430.80" y2="439.67" stroke="#000" stroke-width="1.15" />
<line x1="426.90" y1="403.19" x2="434.70" y2="403.19" stroke="#000" stroke-width="1.15" />
<line x1="426.90" y1="439.67" x2="434.70" y2="439.67" stroke="#000" stroke-width="1.15" />
<circle cx="252.60" cy="476.72" r="3.05" fill="none" stroke="#000" stroke-width="1.25"/>
<circle cx="288.24" cy="467.60" r="3.05" fill="none" stroke="#000" stroke-width="1.25"/>
<circle cx="323.88" cy="464.18" r="3.05" fill="none" stroke="#000" stroke-width="1.25"/>
<circle cx="359.52" cy="458.48" r="3.05" fill="none" stroke="#000" stroke-width="1.25"/>
<circle cx="395.16" cy="445.03" r="3.05" fill="none" stroke="#000" stroke-width="1.25"/>
<circle cx="430.80" cy="421.43" r="3.05" fill="none" stroke="#000" stroke-width="1.25"/>
<polyline points="252.60,476.72 288.24,468.74 323.88,468.51 359.52,465.32 395.16,464.18 430.80,459.85" fill="none" stroke="#000" stroke-width="1"/>
<rect x="249.60" y="473.72" width="6.00" height="6.00" fill="none" stroke="#000" stroke-width="1.25" />
<rect x="285.24" y="465.74" width="6.00" height="6.00" fill="none" stroke="#000" stroke-width="1.25" />
<rect x="320.88" y="465.51" width="6.00" height="6.00" fill="none" stroke="#000" stroke-width="1.25" />
<rect x="356.52" y="462.32" width="6.00" height="6.00" fill="none" stroke="#000" stroke-width="1.25" />
<rect x="392.16" y="461.18" width="6.00" height="6.00" fill="none" stroke="#000" stroke-width="1.25" />
<rect x="427.80" y="456.85" width="6.00" height="6.00" fill="none" stroke="#000" stroke-width="1.25" />
<line x1="265.50" y1="307.50" x2="278.10" y2="307.50" stroke="#000" stroke-width="1.1" />
<circle cx="271.80" cy="307.50" r="3.60" fill="#000"/>
<text x="284.50" y="310.70" font-size="8.85" text-anchor="start" font-weight="normal" fill="#111" >WT + DMSO</text>
<line x1="265.50" y1="322.80" x2="278.10" y2="322.80" stroke="#000" stroke-width="1.1" />
<rect x="268.20" y="319.20" width="7.20" height="7.20" fill="#000" stroke="none" stroke-width="1" />
<text x="284.50" y="326.00" font-size="8.85" text-anchor="start" font-weight="normal" fill="#111" >R132H + DMSO</text>
<line x1="265.50" y1="338.10" x2="278.10" y2="338.10" stroke="#000" stroke-width="1.1" />
<polygon points="271.80,332.20 267.80,341.60 275.80,341.60" fill="#000"/>
<text x="284.50" y="341.30" font-size="8.85" text-anchor="start" font-weight="normal" fill="#111" >R132H/D279N + DMSO</text>
<line x1="265.50" y1="353.40" x2="278.10" y2="353.40" stroke="#000" stroke-width="1.1" />
<circle cx="271.80" cy="353.40" r="3.05" fill="none" stroke="#000" stroke-width="1.25"/>
<text x="284.50" y="356.60" font-size="8.85" text-anchor="start" font-weight="normal" fill="#111" >R132H/D279N + AG120</text>
<line x1="265.50" y1="368.70" x2="278.10" y2="368.70" stroke="#000" stroke-width="1.1" />
<rect x="268.80" y="365.70" width="6.00" height="6.00" fill="none" stroke="#000" stroke-width="1.25" />
<text x="284.50" y="371.90" font-size="8.85" text-anchor="start" font-weight="normal" fill="#111" >R132H/D279N + Lilly</text>
</g>
<g id="panel-e">
<line x1="503.30" y1="296.20" x2="503.30" y2="460.30" stroke="#000" stroke-width="1.35" />
<line x1="499.30" y1="459.80" x2="695.00" y2="459.80" stroke="#000" stroke-width="1.3" />
<line x1="498.80" y1="296.70" x2="503.80" y2="296.70" stroke="#000" stroke-width="1.35" />
<text x="496.30" y="300.80" font-size="9.7" text-anchor="end" font-weight="normal" fill="#111" >1.2</text>
<line x1="498.80" y1="337.50" x2="503.80" y2="337.50" stroke="#000" stroke-width="1.35" />
<text x="496.30" y="341.60" font-size="9.7" text-anchor="end" font-weight="normal" fill="#111" >0.9</text>
<line x1="498.80" y1="378.10" x2="503.80" y2="378.10" stroke="#000" stroke-width="1.35" />
<text x="496.30" y="382.20" font-size="9.7" text-anchor="end" font-weight="normal" fill="#111" >0.6</text>
<line x1="498.80" y1="419.20" x2="503.80" y2="419.20" stroke="#000" stroke-width="1.35" />
<text x="496.30" y="423.30" font-size="9.7" text-anchor="end" font-weight="normal" fill="#111" >0.3</text>
<line x1="498.80" y1="459.80" x2="503.80" y2="459.80" stroke="#000" stroke-width="1.35" />
<text x="496.30" y="463.90" font-size="9.7" text-anchor="end" font-weight="normal" fill="#111" >0</text>
<text x="476.30" y="380.00" font-size="9.7" text-anchor="middle" font-weight="normal" fill="#111" transform="rotate(-90 476.30 380.00)" >Fold difference in cell # (vs. DMSO)</text>
<line x1="524.10" y1="459.80" x2="524.10" y2="464.50" stroke="#000" stroke-width="1.35" />
<line x1="554.60" y1="459.80" x2="554.60" y2="464.50" stroke="#000" stroke-width="1.35" />
<line x1="585.20" y1="459.80" x2="585.20" y2="464.50" stroke="#000" stroke-width="1.35" />
<line x1="616.50" y1="459.80" x2="616.50" y2="464.50" stroke="#000" stroke-width="1.35" />
<line x1="647.20" y1="459.80" x2="647.20" y2="464.50" stroke="#000" stroke-width="1.35" />
<line x1="677.90" y1="459.80" x2="677.90" y2="464.50" stroke="#000" stroke-width="1.35" />
<rect x="514.55" y="325.00" width="19.10" height="134.80" fill="url(#pDenseE)" stroke="#0a0a0a" stroke-width="1.15" />
<line x1="524.10" y1="314.50" x2="524.10" y2="334.50" stroke="#111" stroke-width="1" />
<line x1="518.60" y1="314.50" x2="529.60" y2="314.50" stroke="#111" stroke-width="1" />
<line x1="518.60" y1="334.50" x2="529.60" y2="334.50" stroke="#111" stroke-width="1" />
<rect x="545.05" y="431.40" width="19.10" height="28.40" fill="url(#pLightE)" stroke="#0a0a0a" stroke-width="1.15" />
<line x1="554.60" y1="427.00" x2="554.60" y2="434.90" stroke="#111" stroke-width="1" />
<line x1="549.10" y1="427.00" x2="560.10" y2="427.00" stroke="#111" stroke-width="1" />
<line x1="549.10" y1="434.90" x2="560.10" y2="434.90" stroke="#111" stroke-width="1" />
<rect x="575.65" y="440.50" width="19.10" height="19.30" fill="url(#pLines)" stroke="#0a0a0a" stroke-width="1.15" />
<line x1="585.20" y1="436.60" x2="585.20" y2="443.50" stroke="#111" stroke-width="1" />
<line x1="579.70" y1="436.60" x2="590.70" y2="436.60" stroke="#111" stroke-width="1" />
<line x1="579.70" y1="443.50" x2="590.70" y2="443.50" stroke="#111" stroke-width="1" />
<rect x="606.95" y="324.40" width="19.10" height="135.40" fill="url(#pDenseE)" stroke="#0a0a0a" stroke-width="1.15" />
<line x1="616.50" y1="315.40" x2="616.50" y2="332.80" stroke="#111" stroke-width="1" />
<line x1="611.00" y1="315.40" x2="622.00" y2="315.40" stroke="#111" stroke-width="1" />
<line x1="611.00" y1="332.80" x2="622.00" y2="332.80" stroke="#111" stroke-width="1" />
<rect x="637.65" y="331.90" width="19.10" height="127.90" fill="url(#pLightE)" stroke="#0a0a0a" stroke-width="1.15" />
<line x1="647.20" y1="313.30" x2="647.20" y2="349.90" stroke="#111" stroke-width="1" />
<line x1="641.70" y1="313.30" x2="652.70" y2="313.30" stroke="#111" stroke-width="1" />
<line x1="641.70" y1="349.90" x2="652.70" y2="349.90" stroke="#111" stroke-width="1" />
<rect x="668.35" y="414.30" width="19.10" height="45.50" fill="url(#pLines)" stroke="#0a0a0a" stroke-width="1.15" />
<line x1="677.90" y1="402.10" x2="677.90" y2="425.30" stroke="#111" stroke-width="1" />
<line x1="672.40" y1="402.10" x2="683.40" y2="402.10" stroke="#111" stroke-width="1" />
<line x1="672.40" y1="425.30" x2="683.40" y2="425.30" stroke="#111" stroke-width="1" />
<text x="527.50" y="467.00" font-size="9.7" text-anchor="end" font-weight="normal" fill="#111" transform="rotate(-90 527.50 467.00)" >DMSO</text>
<text x="558.00" y="467.00" font-size="9.7" text-anchor="end" font-weight="normal" fill="#111" transform="rotate(-90 558.00 467.00)" >IVO</text>
<text x="588.60" y="467.00" font-size="9.7" text-anchor="end" font-weight="normal" fill="#111" transform="rotate(-90 588.60 467.00)" >LY</text>
<text x="619.90" y="467.00" font-size="9.7" text-anchor="end" font-weight="normal" fill="#111" transform="rotate(-90 619.90 467.00)" >DMSO</text>
<text x="650.60" y="467.00" font-size="9.7" text-anchor="end" font-weight="normal" fill="#111" transform="rotate(-90 650.60 467.00)" >IVO</text>
<text x="681.30" y="467.00" font-size="9.7" text-anchor="end" font-weight="normal" fill="#111" transform="rotate(-90 681.30 467.00)" >LY</text>
<line x1="516.20" y1="499.60" x2="594.80" y2="499.60" stroke="#000" stroke-width="1.3" />
<line x1="610.00" y1="499.60" x2="688.50" y2="499.60" stroke="#000" stroke-width="1.3" />
<text x="555.50" y="512.80" font-size="9.7" text-anchor="middle" font-weight="normal" fill="#111" >IDH1 R132H</text>
<text x="648.20" y="512.80" font-size="9.7" text-anchor="middle" font-weight="normal" fill="#111" >IDH1</text>
<text x="649.30" y="523.80" font-size="9.7" text-anchor="middle" font-weight="normal" fill="#111" >R132H/D279N</text>
</g>
<g id="panel-f">
<line x1="57.40" y1="532.70" x2="57.40" y2="728.50" stroke="#222" stroke-width="1.1" />
<line x1="53.40" y1="728.00" x2="240.40" y2="728.00" stroke="#222" stroke-width="1.1" />
<line x1="53.40" y1="533.20" x2="57.90" y2="533.20" stroke="#222" stroke-width="1.1" />
<text x="51.20" y="537.40" font-size="9.7" text-anchor="end" font-weight="normal" fill="#111" >1.2</text>
<line x1="53.40" y1="581.90" x2="57.90" y2="581.90" stroke="#222" stroke-width="1.1" />
<text x="51.20" y="586.10" font-size="9.7" text-anchor="end" font-weight="normal" fill="#111" >0.9</text>
<line x1="53.40" y1="630.60" x2="57.90" y2="630.60" stroke="#222" stroke-width="1.1" />
<text x="51.20" y="634.80" font-size="9.7" text-anchor="end" font-weight="normal" fill="#111" >0.6</text>
<line x1="53.40" y1="679.30" x2="57.90" y2="679.30" stroke="#222" stroke-width="1.1" />
<text x="51.20" y="683.50" font-size="9.7" text-anchor="end" font-weight="normal" fill="#111" >0.3</text>
<line x1="53.40" y1="728.00" x2="57.90" y2="728.00" stroke="#222" stroke-width="1.1" />
<text x="51.20" y="732.20" font-size="9.7" text-anchor="end" font-weight="normal" fill="#111" >0</text>
<text x="29.00" y="632.00" font-size="9.7" text-anchor="middle" font-weight="normal" fill="#111" transform="rotate(-90 29.00 632.00)" >Fold difference in 2HG (vs. DMSO)</text>
<line x1="76.90" y1="728.00" x2="76.90" y2="731.00" stroke="#222" stroke-width="1.1" />
<line x1="76.90" y1="558.40" x2="76.90" y2="565.90" stroke="#222" stroke-width="1" />
<line x1="72.10" y1="558.40" x2="81.70" y2="558.40" stroke="#222" stroke-width="1" />
<rect x="67.90" y="565.90" width="18.00" height="162.10" fill="#000" stroke="#222" stroke-width="1" />
<line x1="105.90" y1="728.00" x2="105.90" y2="731.00" stroke="#222" stroke-width="1.1" />
<line x1="105.90" y1="684.10" x2="105.90" y2="690.20" stroke="#222" stroke-width="1" />
<line x1="101.10" y1="684.10" x2="110.70" y2="684.10" stroke="#222" stroke-width="1" />
<rect x="96.90" y="690.20" width="18.00" height="37.80" fill="#474747" stroke="#222" stroke-width="1" />
<line x1="134.60" y1="728.00" x2="134.60" y2="731.00" stroke="#222" stroke-width="1.1" />
<line x1="134.60" y1="709.50" x2="134.60" y2="712.50" stroke="#222" stroke-width="1" />
<line x1="129.80" y1="709.50" x2="139.40" y2="709.50" stroke="#222" stroke-width="1" />
<rect x="125.60" y="712.50" width="18.00" height="15.50" fill="#7d7d7d" stroke="#222" stroke-width="1" />
<line x1="163.30" y1="728.00" x2="163.30" y2="731.00" stroke="#222" stroke-width="1.1" />
<line x1="163.30" y1="711.90" x2="163.30" y2="715.20" stroke="#222" stroke-width="1" />
<line x1="158.50" y1="711.90" x2="168.10" y2="711.90" stroke="#222" stroke-width="1" />
<rect x="154.30" y="715.20" width="18.00" height="12.80" fill="#c0c0c0" stroke="#222" stroke-width="1" />
<line x1="192.00" y1="728.00" x2="192.00" y2="731.00" stroke="#222" stroke-width="1.1" />
<line x1="192.00" y1="714.10" x2="192.00" y2="716.60" stroke="#222" stroke-width="1" />
<line x1="187.20" y1="714.10" x2="196.80" y2="714.10" stroke="#222" stroke-width="1" />
<rect x="183.00" y="716.60" width="18.00" height="11.40" fill="#eeeeee" stroke="#222" stroke-width="1" />
<line x1="221.00" y1="728.00" x2="221.00" y2="731.00" stroke="#222" stroke-width="1.1" />
<line x1="221.00" y1="716.00" x2="221.00" y2="716.60" stroke="#222" stroke-width="1" />
<line x1="216.20" y1="716.00" x2="225.80" y2="716.00" stroke="#222" stroke-width="1" />
<rect x="212.00" y="716.60" width="18.00" height="11.40" fill="#ffffff" stroke="#222" stroke-width="1" />
<polygon points="72.4,735 226.3,735 226.3,744" fill="#000"/>
<text x="234.70" y="743.60" font-size="9.7" text-anchor="start" font-weight="normal" fill="#111" >LY</text>
<text x="152.70" y="545.30" font-size="9.7" text-anchor="middle" font-weight="normal" fill="#111" >IDH1 R132H</text>
<line x1="292.20" y1="532.70" x2="292.20" y2="728.50" stroke="#222" stroke-width="1.1" />
<line x1="288.20" y1="728.00" x2="474.70" y2="728.00" stroke="#222" stroke-width="1.1" />
<line x1="288.20" y1="533.20" x2="292.70" y2="533.20" stroke="#222" stroke-width="1.1" />
<text x="286.00" y="537.40" font-size="9.7" text-anchor="end" font-weight="normal" fill="#111" >1.2</text>
<line x1="288.20" y1="581.90" x2="292.70" y2="581.90" stroke="#222" stroke-width="1.1" />
<text x="286.00" y="586.10" font-size="9.7" text-anchor="end" font-weight="normal" fill="#111" >0.9</text>
<line x1="288.20" y1="630.60" x2="292.70" y2="630.60" stroke="#222" stroke-width="1.1" />
<text x="286.00" y="634.80" font-size="9.7" text-anchor="end" font-weight="normal" fill="#111" >0.6</text>
<line x1="288.20" y1="679.30" x2="292.70" y2="679.30" stroke="#222" stroke-width="1.1" />
<text x="286.00" y="683.50" font-size="9.7" text-anchor="end" font-weight="normal" fill="#111" >0.3</text>
<line x1="288.20" y1="728.00" x2="292.70" y2="728.00" stroke="#222" stroke-width="1.1" />
<text x="286.00" y="732.20" font-size="9.7" text-anchor="end" font-weight="normal" fill="#111" >0</text>
<text x="263.00" y="632.00" font-size="9.7" text-anchor="middle" font-weight="normal" fill="#111" transform="rotate(-90 263.00 632.00)" >Fold difference in 2HG (vs. DMSO)</text>
<line x1="311.20" y1="728.00" x2="311.20" y2="731.00" stroke="#222" stroke-width="1.1" />
<line x1="311.20" y1="545.40" x2="311.20" y2="566.00" stroke="#222" stroke-width="1" />
<line x1="306.40" y1="545.40" x2="316.00" y2="545.40" stroke="#222" stroke-width="1" />
<rect x="302.20" y="566.00" width="18.00" height="162.00" fill="#000" stroke="#222" stroke-width="1" />
<line x1="340.30" y1="728.00" x2="340.30" y2="731.00" stroke="#222" stroke-width="1.1" />
<line x1="340.30" y1="591.00" x2="340.30" y2="599.10" stroke="#222" stroke-width="1" />
<line x1="335.50" y1="591.00" x2="345.10" y2="591.00" stroke="#222" stroke-width="1" />
<rect x="331.30" y="599.10" width="18.00" height="128.90" fill="#474747" stroke="#222" stroke-width="1" />
<line x1="368.90" y1="728.00" x2="368.90" y2="731.00" stroke="#222" stroke-width="1.1" />
<line x1="368.90" y1="651.80" x2="368.90" y2="652.20" stroke="#222" stroke-width="1" />
<line x1="364.10" y1="651.80" x2="373.70" y2="651.80" stroke="#222" stroke-width="1" />
<rect x="359.90" y="652.20" width="18.00" height="75.80" fill="#7d7d7d" stroke="#222" stroke-width="1" />
<line x1="398.00" y1="728.00" x2="398.00" y2="731.00" stroke="#222" stroke-width="1.1" />
<line x1="398.00" y1="669.90" x2="398.00" y2="671.30" stroke="#222" stroke-width="1" />
<line x1="393.20" y1="669.90" x2="402.80" y2="669.90" stroke="#222" stroke-width="1" />
<rect x="389.00" y="671.30" width="18.00" height="56.70" fill="#c0c0c0" stroke="#222" stroke-width="1" />
<line x1="427.00" y1="728.00" x2="427.00" y2="731.00" stroke="#222" stroke-width="1.1" />
<rect x="418.00" y="691.40" width="18.00" height="36.60" fill="#eeeeee" stroke="#222" stroke-width="1" />
<line x1="455.60" y1="728.00" x2="455.60" y2="731.00" stroke="#222" stroke-width="1.1" />
<line x1="455.60" y1="713.50" x2="455.60" y2="715.60" stroke="#222" stroke-width="1" />
<line x1="450.80" y1="713.50" x2="460.40" y2="713.50" stroke="#222" stroke-width="1" />
<rect x="446.60" y="715.60" width="18.00" height="12.40" fill="#ffffff" stroke="#222" stroke-width="1" />
<polygon points="312.4,735 466.3,735 466.3,744" fill="#000"/>
<text x="474.70" y="743.60" font-size="9.7" text-anchor="start" font-weight="normal" fill="#111" >LY</text>
<text x="386.40" y="544.60" font-size="9.7" text-anchor="middle" font-weight="normal" fill="#111" >IDH1</text>
<text x="387.40" y="557.00" font-size="9.7" text-anchor="middle" font-weight="normal" fill="#111" >R132H/D279N</text>
<rect x="510.30" y="586.50" width="10.40" height="10.40" fill="#000" stroke="#222" stroke-width="0.9" />
<text x="527.20" y="595.70" font-size="11.3" text-anchor="start" font-weight="normal" fill="#111" >DMSO</text>
<rect x="510.30" y="603.83" width="10.40" height="10.40" fill="#474747" stroke="#222" stroke-width="0.9" />
<text x="527.20" y="613.03" font-size="11.3" text-anchor="start" font-weight="normal" fill="#111" >100 pM LY</text>
<rect x="510.30" y="621.16" width="10.40" height="10.40" fill="#7d7d7d" stroke="#222" stroke-width="0.9" />
<text x="527.20" y="630.36" font-size="11.3" text-anchor="start" font-weight="normal" fill="#111" >500 pM LY</text>
<rect x="510.30" y="638.49" width="10.40" height="10.40" fill="#c0c0c0" stroke="#222" stroke-width="0.9" />
<text x="527.20" y="647.69" font-size="11.3" text-anchor="start" font-weight="normal" fill="#111" >1 nM LY</text>
<rect x="510.30" y="655.82" width="10.40" height="10.40" fill="#eeeeee" stroke="#222" stroke-width="0.9" />
<text x="527.20" y="665.02" font-size="11.3" text-anchor="start" font-weight="normal" fill="#111" >4 nM LY</text>
<rect x="510.30" y="673.15" width="10.40" height="10.40" fill="#ffffff" stroke="#222" stroke-width="0.9" />
<text x="527.20" y="682.35" font-size="11.3" text-anchor="start" font-weight="normal" fill="#111" >20 nM LY</text>
</g>
</svg></body></html>
